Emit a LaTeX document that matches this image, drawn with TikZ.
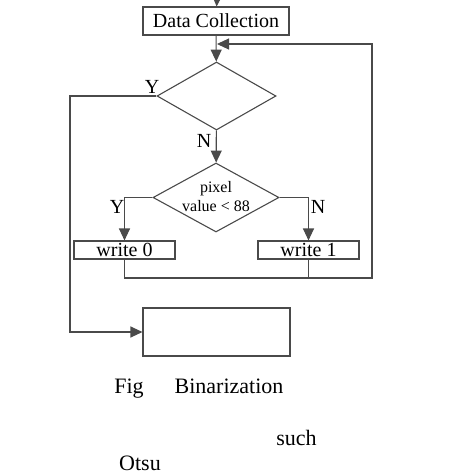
\documentclass[tikz,border=0pt]{standalone}
\usepackage{fontspec}
\setmainfont{Liberation Serif}
\usetikzlibrary{shapes.geometric,arrows.meta}
\definecolor{linec}{HTML}{4A4A4A}
\tikzset{
  box/.style={draw=linec,line width=1.1pt,rectangle,inner sep=0pt,font=\fontsize{20}{24}\selectfont},
  dia/.style={draw=linec,line width=1.1pt,diamond,inner sep=0pt},
  conn/.style={draw=linec,line width=1.1pt},
  arr/.style={conn,-{Triangle[length=12pt,width=11pt]}},
  lab/.style={anchor=base,inner sep=0pt,font=\fontsize{20}{24}\selectfont},
  captxt/.style={anchor=base,inner sep=0pt,font=\fontsize{22}{26}\selectfont},
}
\begin{document}
\begin{tikzpicture}[x=1pt,y=-1pt]
\useasboundingbox (0,0) rectangle (474,474);
\coordinate (top) at (217,-2);
\node[box,minimum width=146pt,minimum height=28pt] (dc) at (216,21) {Data Collection};
\node[dia,minimum width=119pt,minimum height=68pt] (d1) at (216.5,96) {};
\node[dia,minimum width=126pt,minimum height=69pt] (d2) at (216,197.5) {};
\node[inner sep=0pt,align=center,font=\fontsize{16}{19}\selectfont] (d2t) at (216,197) {pixel\\value < 88};
\node[box,minimum width=101pt,minimum height=18pt] (w0) at (124.5,250) {write 0};
\node[box,minimum width=101pt,minimum height=18pt] (w1) at (308.5,250) {write 1};
\node[box,minimum width=147pt,minimum height=48pt] (out) at (216.5,332) {};
\coordinate (yl) at (70,96);
\coordinate (rc) at (372,278);
\coordinate (fbin) at (217,44);
\draw[arr] (top) -- (dc);
\draw[arr] (dc) -- (d1);
\draw[arr] (d1) -- (d2);
\draw[arr] (d1.west) -- (yl) |- (out.west);
\draw[arr] (d2.west) -| (w0);
\draw[arr] (d2.east) -| (w1);
\draw[arr] (w0.south) |- (rc) |- (fbin);
\draw[conn] (w1.south) -- (w1.south |- rc);
\node[lab] (y1) at (152,93) {Y};
\node[lab] (n1) at (204,147) {N};
\node[lab] (y2) at (117,213) {Y};
\node[lab] (n2) at (318,213) {N};
\node[captxt] (fig) at (129,393) {Fig};
\node[captxt] (bin) at (229,393) {Binarization};
\node[captxt] (such) at (296.5,445) {such};
\node[captxt] (otsu) at (140,470) {Otsu};
\end{tikzpicture}
\end{document}
